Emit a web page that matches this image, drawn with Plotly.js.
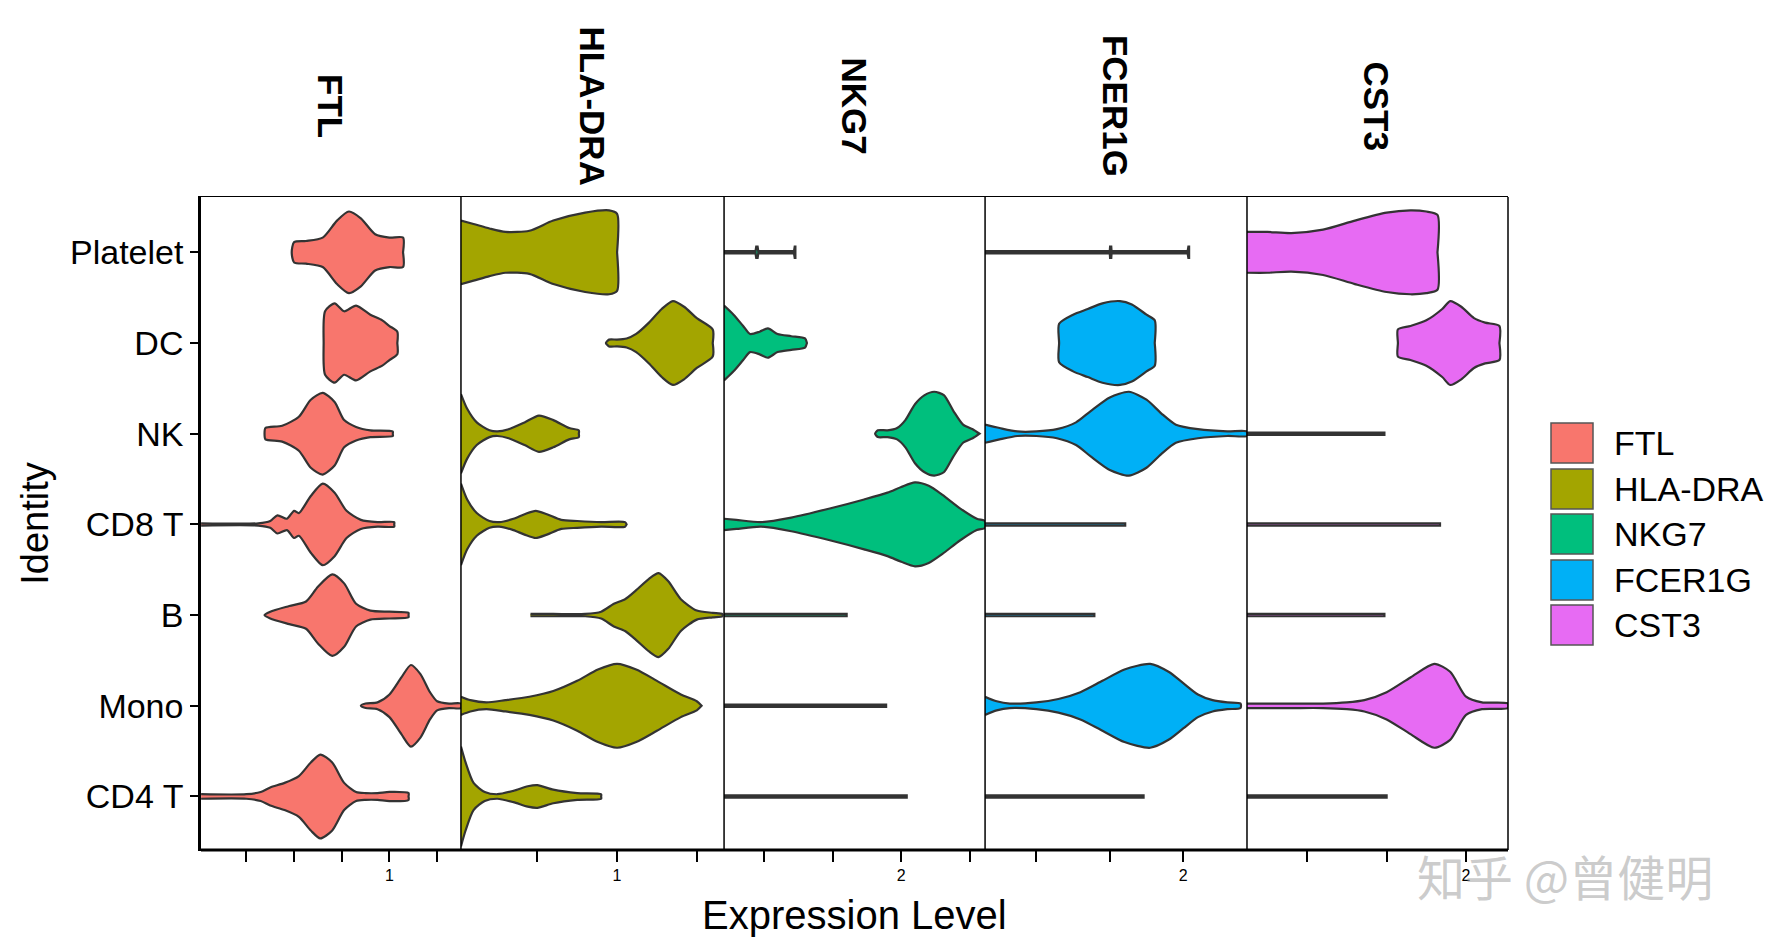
<!DOCTYPE html>
<html><head><meta charset="utf-8">
<script src="https://cdn.plot.ly/plotly-3.0.1.min.js"></script>
<style>body{margin:0;background:#fff}#c{width:1782px;height:948px}</style>
</head><body><div id="c"></div>
<script>
// categories, top to bottom
const categories = ['Platelet','DC','NK','CD8 T','B','Mono','CD4 T'];
const genes = ['FTL','HLA-DRA','NKG7','FCER1G','CST3'];
const geneColors = ['#F8766D','#A3A500','#00BF7D','#00B0F6','#E76BF3'];
// violin profiles: expression values (x) and half-widths (relative, 37 = full)
const ftlX = [
 [0.59,0.60,0.65,0.72,0.78,0.83,0.88,0.94,1.0,1.057,1.057],
 [0.724,0.73,0.77,0.81,0.86,0.92,0.97,1.0,1.033,1.033],
 [0.476,0.48,0.55,0.62,0.67,0.72,0.77,0.81,0.86,0.92,1.014,1.014],
 [0.21,0.45,0.5,0.53,0.57,0.6,0.62,0.67,0.72,0.77,0.82,0.88,0.95,1.02,1.02],
 [0.476,0.5,0.58,0.65,0.7,0.76,0.81,0.86,0.92,1.0,1.08,1.08],
 [0.88,0.9,0.95,1.0,1.05,1.09,1.13,1.17,1.2,1.25,1.3],
 [0.21,0.4,0.46,0.5,0.56,0.62,0.67,0.71,0.76,0.81,0.86,0.9,0.95,1.0,1.08,1.08]];
const ftlW = [
 [0,9,10,13,28,36,30,16,13,13,0],
 [0,28,35,28,33,25,20,15,10,0],
 [0,5,7,15,30,36,28,12,6,3,2,0],
 [1,1,3,8,5,12,10,25,36,28,12,4,2,2,0],
 [0,3,8,12,25,36,28,10,4,3,2,0],
 [0,2,3,10,25,36,28,12,4,2,2],
 [2,2,4,8,12,18,30,37,30,12,4,3,3,4,3,0]];
const hlaX = [
 [0.021,0.1,0.2,0.3,0.45,0.6,0.8,0.95,1.0,1.0],
 [0.93,0.95,1.0,1.06,1.12,1.2,1.28,1.35,1.42,1.5,1.6,1.6],
 [0.021,0.06,0.12,0.2,0.25,0.32,0.42,0.51,0.6,0.7,0.76,0.76],
 [0.021,0.06,0.12,0.2,0.26,0.35,0.42,0.49,0.56,0.65,0.75,0.9,1.05,1.06],
 [0.457,0.6,0.8,0.9,0.98,1.05,1.12,1.2,1.26,1.32,1.4,1.5,1.6,1.66],
 [0.021,0.08,0.18,0.3,0.45,0.6,0.75,0.88,1.0,1.12,1.25,1.4,1.5,1.53],
 [0.021,0.05,0.1,0.17,0.25,0.35,0.44,0.5,0.6,0.75,0.9,0.9]];
const hlaW = [
 [28,25,21,18,19,28,35,37,34,0],
 [0,3,3,4,8,18,30,37,32,22,12,0],
 [35,22,10,3,2,4,10,16,12,5,3,0],
 [36,22,10,3,2,5,9,12,9,4,3,2,2,0],
 [1,1,1,3,10,14,22,32,37,30,14,4,2,1],
 [8,5,3,5,8,13,22,32,37,32,22,10,4,0],
 [44,30,12,4,2,5,9,10,6,3,2,0]];
const nkgX = [
 [0.711,0.94,0.945,0.955,0.96,1.22,1.225,1.23],
 [0.711,0.78,0.85,0.9,0.97,1.03,1.1,1.2,1.3,1.314],
 [1.81,1.83,1.9,1.97,2.03,2.1,2.17,2.24,2.31,2.38,2.45,2.52,2.57],
 [0.711,0.8,0.98,1.2,1.48,1.73,1.9,2.0,2.1,2.2,2.3,2.43,2.55,2.61],
 [0.711,1.603],
 [0.711,1.89],
 [0.711,2.04]];
const nkgW = [
 [1,1,5,5,1,1,5,5],
 [33,25,15,8,10,13,8,6,4,0],
 [0,3,3,5,12,26,34,37,34,20,8,4,0],
 [5,4,2,6,14,22,28,33,37,34,26,14,5,3],
 [1,1],[1,1],[1,1]];
const fceX = [
 [0.651,1.5,1.502,1.51,1.512,2.03,2.035,2.04],
 [1.155,1.155,1.25,1.35,1.45,1.57,1.65,1.75,1.806,1.806],
 [0.651,0.75,0.87,1.0,1.14,1.27,1.37,1.5,1.63,1.75,1.85,1.95,2.1,2.3,2.434],
 [0.651,1.605],
 [0.651,1.395],
 [0.651,0.73,0.82,1.0,1.15,1.3,1.45,1.6,1.775,1.9,2.0,2.1,2.2,2.3,2.39],
 [0.651,1.73]];
const fceW = [
 [1,1,5,5,1,1,5,5],
 [0,17,25,30,35,37,34,25,20,0],
 [8,5,2,2,4,10,20,32,37,30,18,8,4,2,2],
 [1,1],[1,1],
 [8,4,2,3,6,12,22,32,37,30,20,10,5,3,2],
 [1,1]];
const cstX = [
 [0.621,0.75,0.9,1.1,1.3,1.5,1.65,1.75,1.82,1.82],
 [1.571,1.571,1.65,1.75,1.85,1.9,1.97,2.05,2.12,2.21,2.21],
 [0.621,1.486],
 [0.621,1.836],
 [0.621,1.486],
 [0.621,0.9,1.1,1.25,1.36,1.5,1.65,1.8,1.9,2.0,2.1,2.264],
 [0.621,1.5]];
const cstW = [
 [18,18,17,20,28,35,37,36,33,0],
 [0,12,15,20,30,37,32,22,18,15,0],
 [1,1],[1,1],[1,1],
 [2,2,2,3,5,12,25,37,30,8,3,2],
 [1,1]];
const profX = [ftlX,hlaX,nkgX,fceX,cstX];
const profW = [ftlW,hlaW,nkgW,fceW,cstW];
// axis settings
const xRanges = [[0.2095,1.3],[0.021,1.671],[0.711,2.61],[0.651,2.434],[0.621,2.264]];
const xTicks = [[0.4,0.6,0.8,1.0,1.2],[0.5,1,1.5],[1,1.5,2,2.5],[1,1.5,2],[1,1.5,2]];
const xLabels = [['','','','1',''],['','1',''],['','','2',''],['','','2'],['','','2']];
const bounds = [0,0.1989,0.4002,0.5999,0.8003,1];

const traces = [];
genes.forEach((g,gi)=>{
  categories.forEach((c,ci)=>{
    const xs = profX[gi][ci], ws = profW[gi][ci];
    const yc = categories.length-1-ci;
    const scale = 1/80;
    const smooth = Math.max(...ws) > 5;
    const px = xs.concat(xs.slice().reverse());
    const py = ws.map(w=>yc+w*scale).concat(ws.slice().reverse().map(w=>yc-w*scale));
    traces.push({type:'scatter',mode:'lines',x:px,y:py,fill:'toself',fillcolor:geneColors[gi],
      line:smooth?{color:'#333333',width:2.2,shape:'spline',smoothing:0.7}:{color:'#333333',width:2.2},
      xaxis:gi===0?'x':'x'+(gi+1),yaxis:'y',showlegend:false,hoverinfo:'skip'});
  });
});

const layout = {width:1782,height:948,margin:{l:201,r:274,t:197,b:98},
  paper_bgcolor:'#fff',plot_bgcolor:'#fff',showlegend:false,
  font:{family:'Liberation Sans, Arial, sans-serif',color:'#000'},
  yaxis:{range:[-0.59,6.61],tickvals:[0,1,2,3,4,5,6],ticktext:categories.slice().reverse(),
    ticks:'outside',ticklen:8,tickwidth:1.5,tickcolor:'#000',showgrid:false,zeroline:false,
    showline:true,linecolor:'#000',linewidth:2.5,tickfont:{size:34,color:'#000'},
    title:{text:'Identity',font:{size:38},standoff:10}},
  shapes:[],annotations:[]};
genes.forEach((g,gi)=>{
  const key = gi===0?'xaxis':'xaxis'+(gi+1);
  layout[key] = {domain:[bounds[gi],bounds[gi+1]],range:xRanges[gi],anchor:'y',
    tickvals:xTicks[gi],ticktext:xLabels[gi],ticks:'outside',ticklen:11,tickwidth:1.5,tickcolor:'#000',
    showgrid:false,zeroline:false,showline:true,linecolor:'#000',linewidth:1.3,mirror:true,
    tickfont:{size:16,color:'#000'}};
  layout.annotations.push({xref:'paper',yref:'paper',x:(bounds[gi]+bounds[gi+1])/2,y:1+(197-106)/653,
    text:'<b>'+g+'</b>',textangle:90,showarrow:false,xanchor:'center',yanchor:'middle',font:{size:35}});
  // legend
  const cy = [443,489,534,580,625][gi];
  layout.shapes.push({type:'rect',xref:'paper',yref:'paper',x0:(1551-201)/1307,x1:(1593-201)/1307,
    y0:1-(cy+20-197)/653,y1:1-(cy-20-197)/653,fillcolor:geneColors[gi],line:{color:'#555',width:1.5}});
  layout.annotations.push({xref:'paper',yref:'paper',x:(1612-201)/1307,y:1-(cy-197)/653,text:g,
    showarrow:false,xanchor:'left',yanchor:'middle',font:{size:34}});
});
// panel dividers and border
bounds.slice(1).forEach(b=>{
  layout.shapes.push({type:'line',xref:'paper',yref:'paper',x0:b,x1:b,y0:0,y1:1,line:{color:'#000',width:1.5}});
});
layout.shapes.push({type:'line',xref:'paper',yref:'paper',x0:0,x1:1,y0:0,y1:0,line:{color:'#000',width:3}});
layout.annotations.push({xref:'paper',yref:'paper',x:0.5,y:1-(915-197)/653,text:'Expression Level',
  showarrow:false,xanchor:'center',yanchor:'middle',font:{size:40}});
layout.annotations.push({xref:'paper',yref:'paper',x:(1565-201)/1307,y:1-(875-197)/653,text:'知乎 @曾健明',
  showarrow:false,xanchor:'center',yanchor:'middle',font:{size:48,color:'rgba(170,170,170,0.6)',family:'Noto Sans CJK SC'}});
Plotly.newPlot('c',traces,layout,{displayModeBar:false});
</script></body></html>
